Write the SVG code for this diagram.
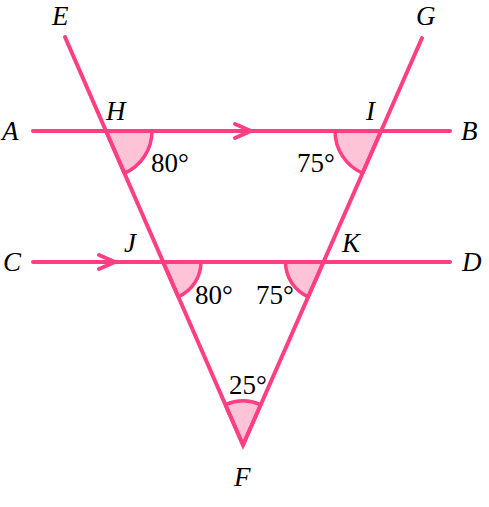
<svg xmlns="http://www.w3.org/2000/svg" width="489" height="507" viewBox="0 0 489 507">
<style>
.ln{fill:none;stroke:#FF3F82;stroke-width:4;stroke-linecap:round;stroke-linejoin:round}
.ang{fill:#FFC3D7;stroke:#FF3F82;stroke-width:3.5;stroke-linejoin:round}
.lbl{font-family:"Liberation Serif","DejaVu Serif",serif;font-style:italic;font-size:27px;fill:#000}
.num{font-family:"Liberation Serif","DejaVu Serif",serif;font-size:27px;fill:#000}
</style>
<rect width="489" height="507" fill="#fff"/>
<g id="angles">
<path class="ang" d="M106,131 L152,131 A46,46 0 0,1 124.4,173.2 Z"/>
<path class="ang" d="M381,131 L335,131 A46,46 0 0,0 362.5,173.1 Z"/>
<path class="ang" d="M163,262 L201,262 A38,38 0 0,1 178.2,296.8 Z"/>
<path class="ang" d="M323.5,262 L285.5,262 A38,38 0 0,0 308.2,296.8 Z"/>
<path class="ang" d="M243,445 L225.4,404.7 A44,44 0 0,1 260.7,404.7 Z"/>
</g>
<g id="connectors">
<line class="ln" x1="33" y1="131" x2="450" y2="131"/>
<line class="ln" x1="33" y1="262" x2="450" y2="262"/>
<polyline class="ln" style="stroke-linejoin:miter" points="65,37 243,445 422,38"/>
<polyline class="ln" points="235,124 251,131 235,138"/>
<polyline class="ln" points="99,255 115,262 99,269"/>
</g>
<g id="point-E"><text class="lbl" x="52" y="25">E</text></g>
<g id="point-G"><text class="lbl" x="416" y="25">G</text></g>
<g id="point-A"><text class="lbl" x="2" y="140">A</text></g>
<g id="point-B"><text class="lbl" x="461" y="140">B</text></g>
<g id="point-C"><text class="lbl" x="3" y="271">C</text></g>
<g id="point-D"><text class="lbl" x="462" y="271">D</text></g>
<g id="point-H"><text class="lbl" x="106" y="120">H</text></g>
<g id="point-I"><text class="lbl" x="366" y="120">I</text></g>
<g id="point-J"><text class="lbl" x="124" y="252">J</text></g>
<g id="point-K"><text class="lbl" x="342" y="252">K</text></g>
<g id="point-F"><text class="lbl" x="234" y="486">F</text></g>
<g id="angle-labels">
<text class="num" x="151" y="172">80°</text>
<text class="num" x="297" y="172">75°</text>
<text class="num" x="195" y="304">80°</text>
<text class="num" x="256" y="304">75°</text>
<text class="num" x="229" y="394">25°</text>
</g>
</svg>
